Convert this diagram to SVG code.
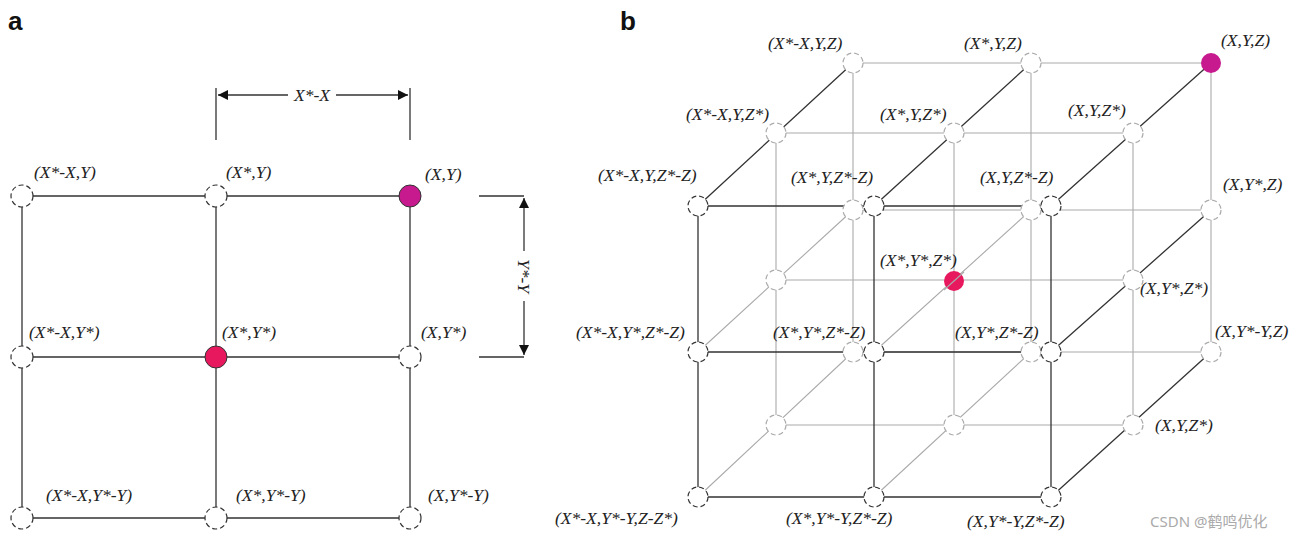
<svg xmlns="http://www.w3.org/2000/svg" width="1303" height="539" viewBox="0 0 1303 539">
<style>
text{font-family:"Liberation Serif",serif;font-style:italic;font-size:17.5px;fill:#222}
.h{font-family:"Liberation Sans",sans-serif;font-style:normal;font-weight:bold;font-size:26px;fill:#111}
.k{stroke:#333;stroke-width:1.3;fill:none}
.g{stroke:#aaa;stroke-width:1.1;fill:none}
.nk{fill:#fff;stroke:#333;stroke-width:1.2;stroke-dasharray:5 3}
.ng{fill:#fff;stroke:#aaa;stroke-width:1.2;stroke-dasharray:5 3}
</style>
<defs><marker id="ar" viewBox="0 0 10 10" refX="10" refY="5" markerWidth="14" markerHeight="10" markerUnits="userSpaceOnUse" orient="auto-start-reverse"><path d="M0,0L10,5L0,10z" fill="#111"/></marker></defs>
<rect width="1303" height="539" fill="#fff"/>
<text class="h" x="8" y="30">a</text>
<text class="h" x="620" y="30">b</text>
<g id="connectors">
<path class="k" d="M22,196H410M22,357H410M22,518H410M22,196V518M216,196V518M410,196V518"/>
<path class="k" d="M216,88V140M410,88V140M479,196H524M479,357H524"/>
<path class="k" d="M218,95H408" marker-start="url(#ar)" marker-end="url(#ar)"/>
<path class="k" d="M524,198V355" marker-start="url(#ar)" marker-end="url(#ar)"/>
<rect x="288" y="86" width="48" height="18" fill="#fff"/>
<rect x="515" y="251" width="18" height="50" fill="#fff"/>
<path class="g" d="M853,63H1211M853,210H1211M853,352H1211M853,63V352M1031,63V352M1211,63V352"/>
<path class="g" d="M776,133H1133M776,280H1133M776,425H1133M776,133V425M954,133V425M1133,133V425"/>
<path class="g" d="M698,352L853,210M698,497L853,352M874,352L1031,210M874,497L1031,352"/>
<path class="k" d="M698,206L853,63M874,206L1031,63M1051,206L1211,63M1051,352L1211,210M1051,497L1211,352"/>
<path class="k" d="M698,206H1051M698,352H1051M698,497H1051M698,206V497M874,206V497M1051,206V497"/>
</g>
<g id="a-nodes">
<circle class="nk" cx="22" cy="196" r="11"/><circle class="nk" cx="216" cy="196" r="11"/>
<circle cx="410" cy="196" r="11" fill="#c71a8e" stroke="#333"/>
<circle class="nk" cx="22" cy="357" r="11"/><circle cx="216" cy="357" r="11" fill="#e8185f" stroke="#333"/>
<circle class="nk" cx="410" cy="357" r="11"/>
<circle class="nk" cx="22" cy="518" r="11"/><circle class="nk" cx="216" cy="518" r="11"/><circle class="nk" cx="410" cy="518" r="11"/>
</g>
<g id="b-back">
<circle class="ng" cx="853" cy="63" r="10"/><circle class="ng" cx="1031" cy="63" r="10"/><circle cx="1211" cy="63" r="10" fill="#c71a8e"/>
<circle class="ng" cx="853" cy="210" r="10"/><circle class="ng" cx="1031" cy="210" r="10"/><circle class="ng" cx="1211" cy="210" r="10"/>
<circle class="ng" cx="853" cy="352" r="10"/><circle class="ng" cx="1031" cy="352" r="10"/><circle class="ng" cx="1211" cy="352" r="10"/>
</g>
<g id="b-mid">
<circle class="ng" cx="776" cy="133" r="10"/><circle class="ng" cx="954" cy="133" r="10"/><circle class="ng" cx="1133" cy="133" r="10"/>
<circle class="ng" cx="776" cy="280" r="10"/><circle cx="954" cy="281" r="10" fill="#e8185f"/><circle class="ng" cx="1133" cy="280" r="10"/>
<circle class="ng" cx="776" cy="425" r="10"/><circle class="ng" cx="954" cy="425" r="10"/><circle class="ng" cx="1133" cy="425" r="10"/>
</g>
<path class="g" d="M944,290L964,272"/>
<g id="b-front">
<circle class="nk" cx="698" cy="206" r="10"/><circle class="nk" cx="874" cy="206" r="10"/><circle class="nk" cx="1051" cy="206" r="10"/>
<circle class="nk" cx="698" cy="352" r="10"/><circle class="nk" cx="874" cy="352" r="10"/><circle class="nk" cx="1051" cy="352" r="10"/>
<circle class="nk" cx="698" cy="497" r="10"/><circle class="nk" cx="874" cy="497" r="10"/><circle class="nk" cx="1051" cy="497" r="10"/>
</g>
<g id="labels">
<text x="312" y="101" text-anchor="middle">X*-X</text>
<text transform="translate(518,276) rotate(90)" text-anchor="middle">Y*-Y</text>
<text x="34" y="178">(X*-X,Y)</text><text x="226" y="178">(X*,Y)</text><text x="425" y="180">(X,Y)</text>
<text x="29" y="338">(X*-X,Y*)</text><text x="222" y="338">(X*,Y*)</text><text x="421" y="338">(X,Y*)</text>
<text x="46" y="501">(X*-X,Y*-Y)</text><text x="236" y="501">(X*,Y*-Y)</text><text x="428" y="501">(X,Y*-Y)</text>
<text x="768" y="49">(X*-X,Y,Z)</text><text x="964" y="49">(X*,Y,Z)</text><text x="1221" y="46">(X,Y,Z)</text>
<text x="686" y="120">(X*-X,Y,Z*)</text><text x="880" y="120">(X*,Y,Z*)</text><text x="1068" y="116">(X,Y,Z*)</text>
<text x="598" y="181">(X*-X,Y,Z*-Z)</text><text x="791" y="183">(X*,Y,Z*-Z)</text><text x="980" y="183">(X,Y,Z*-Z)</text><text x="1223" y="190">(X,Y*,Z)</text>
<text x="880" y="266">(X*,Y*,Z*)</text><text x="1140" y="294">(X,Y*,Z*)</text>
<text x="576" y="338">(X*-X,Y*,Z*-Z)</text><text x="773" y="338">(X*,Y*,Z*-Z)</text><text x="955" y="338">(X,Y*,Z*-Z)</text><text x="1215" y="337">(X,Y*-Y,Z)</text>
<text x="1155" y="431">(X,Y,Z*)</text>
<text x="555" y="524">(X*-X,Y*-Y,Z-Z*)</text><text x="786" y="524">(X*,Y*-Y,Z*-Z)</text><text x="967" y="527">(X,Y*-Y,Z*-Z)</text>
</g>
<text x="1150" y="527" style="font-family:'Noto Sans','Noto Sans CJK SC',sans-serif;font-style:normal;font-size:15px;fill:#aaa">CSDN @鹤鸣优化</text>
</svg>
